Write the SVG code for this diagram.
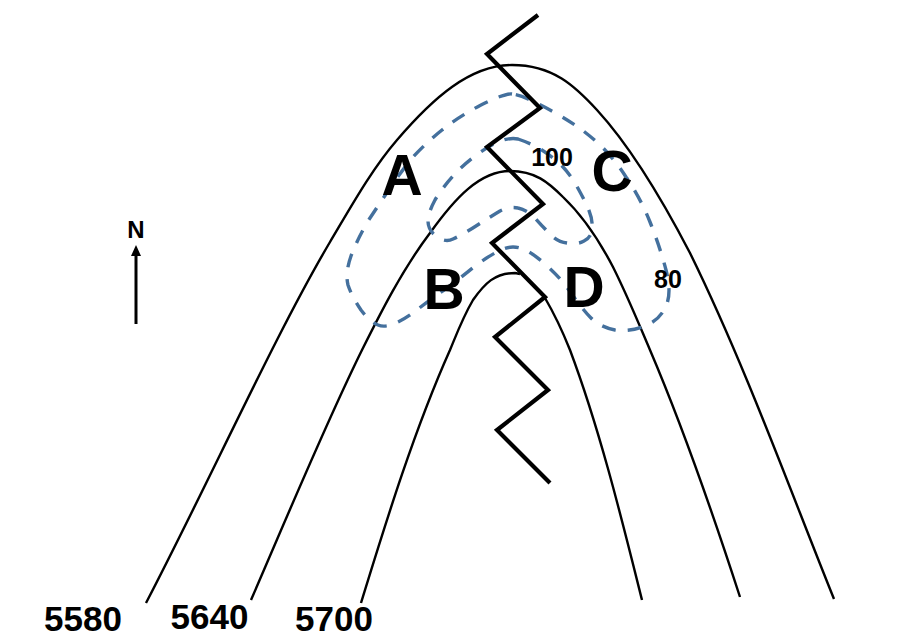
<svg xmlns="http://www.w3.org/2000/svg" width="912" height="639" viewBox="0 0 912 639">
<style>
.contour{fill:none;stroke:#000;stroke-width:2.4}
.zone{fill:none;stroke:#44709d;stroke-width:3.4;stroke-dasharray:14 12}
.fault{fill:none;stroke:#000;stroke-width:4.2}
text{font-family:"Liberation Sans",Arial,sans-serif;font-weight:bold;fill:#000}
.big{font-size:57px;text-anchor:middle}
.num{font-size:25px;text-anchor:middle}
.elev{font-size:35px;text-anchor:middle}
</style>
<rect width="912" height="639" fill="#fff"/>
<g id="connectors">
<path id="contour-5580" class="contour" d="M146,603 C210,480 275,335 330,242 C352,205 372,169 397,140 C433,98 470,65 512,65 C553,65 575,86 597,110 C630,146 664,203 690,253 C745,365 790,490 834,599"/>
<path id="contour-5640" class="contour" d="M251,600 C290,510 325,425 362,350 C380,314 402,270 430,233 C455,198 480,171 510,171 C535,171 548,182 563,197 C583,216 600,242 613,267 C628,297 638,322 650,350 C685,432 715,520 740,597"/>
<path id="contour-5700-left" class="contour" d="M361,603 C382,535 412,435 450,350 C457,333 463,317 473,300 C485,283 495,273 515,273 L520,274"/>
<path id="contour-5700-right" class="contour" d="M545,298 C555,315 562,330 570,350 C600,430 622,520 642,600"/>
<path id="zone-outer" class="zone" d="M512,94 Q505,93 481,105 Q458,117 442,130 Q427,142 413,157 Q400,173 390,188 Q380,203 368,221 Q357,240 351,256 Q345,273 348,285 Q352,297 361,310 Q370,322 378,325 Q385,328 396,323 Q407,318 418,309 Q430,300 444,290 Q458,280 475,266 Q493,253 503,249 Q513,245 523,249 Q533,253 546,265 Q560,277 571,293 Q583,310 591,318 Q600,327 615,330 Q630,332 645,326 Q660,320 666,306 Q672,293 666,270 Q660,247 650,222 Q640,197 626,177 Q613,157 600,145 Q587,133 575,125 Q563,117 550,110 Q537,103 528,99 Q520,95 512,94Z"/>
<path id="zone-inner" class="zone" d="M518,139 Q510,137 498,142 Q487,147 475,156 Q463,165 453,176 Q443,187 435,200 Q428,213 428,221 Q428,230 436,236 Q445,243 453,239 Q462,235 476,226 Q490,217 500,211 Q510,206 518,208 Q527,210 535,218 Q543,227 550,234 Q557,242 567,243 Q577,245 584,241 Q592,237 592,228 Q593,220 588,208 Q583,197 575,183 Q567,170 557,161 Q547,153 537,147 Q527,142 518,139Z"/>
<path id="fault" class="fault" d="M538,15 L487,54 L540,108 L487,147 L543,204 L492,243 L545,297 L495,337 L548,390 L497,430 L550,483"/>
<path id="north-arrow" d="M136,324 V254" fill="none" stroke="#000" stroke-width="3"/>
<path d="M136,245 L141,256 H131Z" fill="#000"/>
</g>
<g id="label-A"><text class="big" x="402" y="195">A</text></g>
<g id="label-B"><text class="big" x="444" y="309">B</text></g>
<g id="label-C"><text class="big" x="612" y="191">C</text></g>
<g id="label-D"><text class="big" x="584" y="307">D</text></g>
<g id="label-100"><text class="num" x="552" y="166">100</text></g>
<g id="label-80"><text class="num" x="668" y="288">80</text></g>
<g id="label-N"><text x="136" y="238" font-size="24" text-anchor="middle">N</text></g>
<g id="label-5580"><text class="elev" x="83" y="631">5580</text></g>
<g id="label-5640"><text class="elev" x="209.500" y="629">5640</text></g>
<g id="label-5700"><text class="elev" x="334" y="631">5700</text></g>
</svg>
